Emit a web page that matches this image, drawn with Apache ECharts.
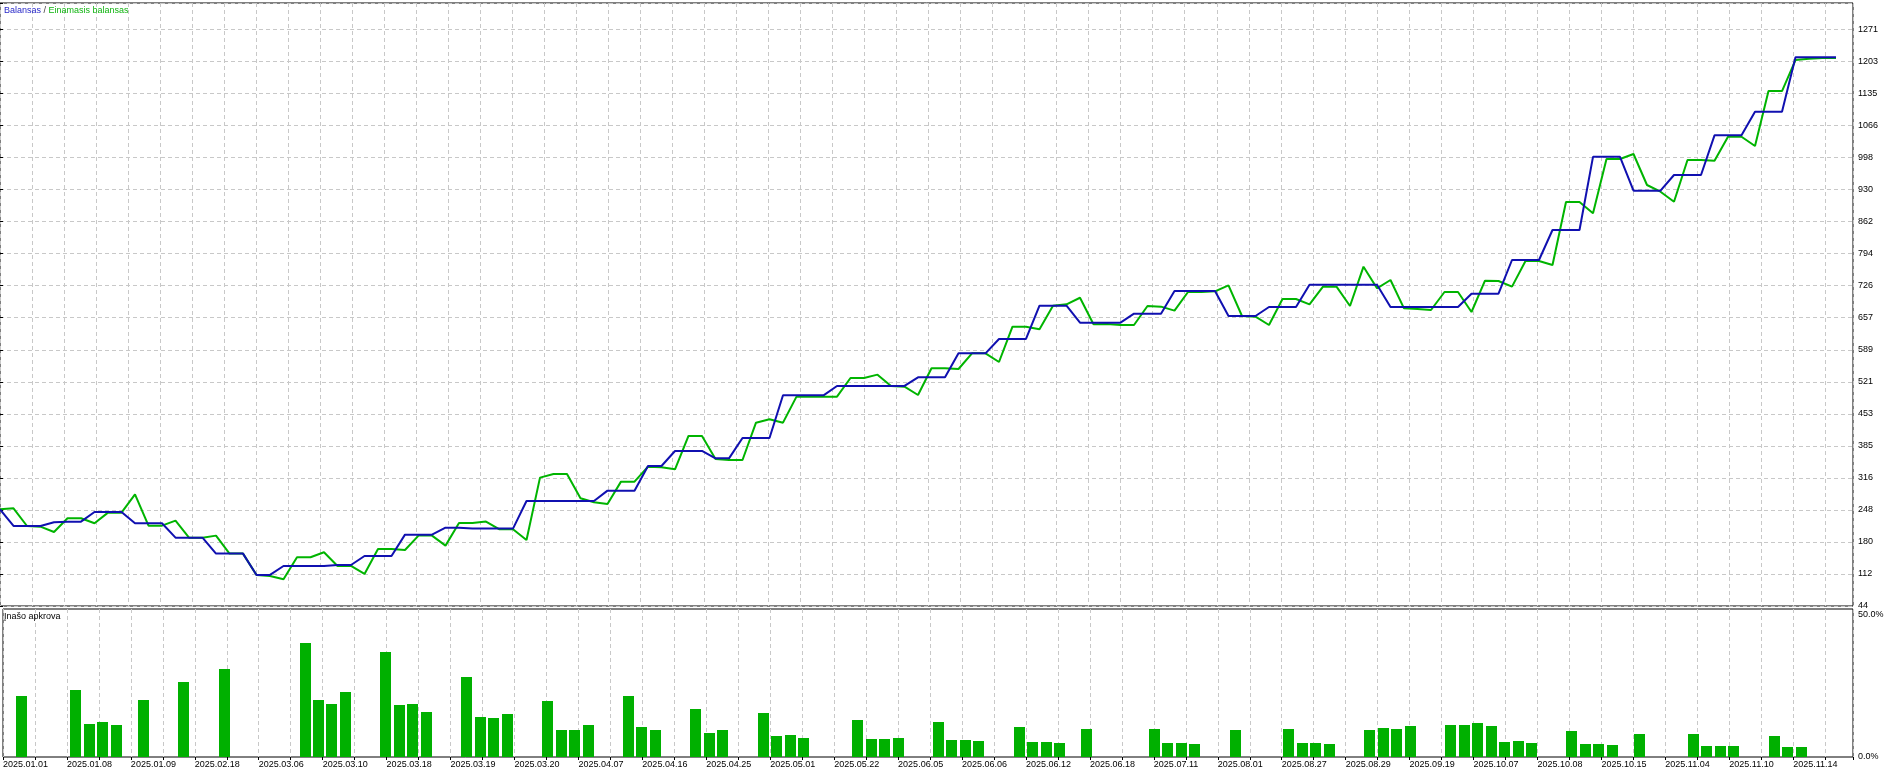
<!DOCTYPE html>
<html>
<head>
<meta charset="utf-8">
<script src="https://cdn.jsdelivr.net/npm/echarts@6/dist/echarts.min.js"></script>
<style>
html,body{margin:0;padding:0;background:#ffffff;}
#chart{width:1896px;height:774px;}
</style>
</head>
<body>
<div id="chart"></div>
<script>
// ---- data ----
const xLabels = ['2025.01.01','2025.01.08','2025.01.09','2025.02.18','2025.03.06','2025.03.10','2025.03.18','2025.03.19','2025.03.20','2025.04.07','2025.04.16','2025.04.25','2025.05.01','2025.05.22','2025.06.05','2025.06.06','2025.06.12','2025.06.18','2025.07.11','2025.08.01','2025.08.27','2025.08.29','2025.09.19','2025.10.07','2025.10.08','2025.10.15','2025.11.04','2025.11.10','2025.11.14'];
const yTickLabels = ['44','112','180','248','316','385','453','521','589','657','726','794','862','930','998','1066','1135','1203','1271'];

// balance per deal step (index 0..136)
const balance = [249.7,214.2,214.2,214.2,222.0,223.4,223.4,244.0,244.0,244.0,
  219.9,219.9,219.9,189.4,189.4,189.4,155.4,155.4,155.4,110.0,
  110.0,129.1,129.1,129.1,129.1,131.2,131.2,150.4,150.4,150.4,
  195.8,195.8,195.8,210.7,210.7,208.6,208.6,208.6,208.6,267.4,
  267.4,267.4,267.4,267.4,267.4,289.4,289.4,289.4,341.9,341.9,
  373.8,373.8,373.8,358.2,358.2,401.5,401.5,401.5,492.3,492.3,
  492.3,492.3,512.2,512.2,512.2,512.2,512.2,512.2,530.6,530.6,
  530.6,581.7,581.7,581.7,612.2,612.2,612.2,683.0,683.0,683.0,
  647.0,647.0,647.0,647.0,666.1,666.1,666.1,714.3,714.3,714.3,
  714.3,661.1,661.1,661.1,680.3,680.3,680.3,727.8,727.8,727.8,
  727.8,727.8,727.8,680.3,680.3,680.3,680.3,680.3,680.3,708.6,
  708.6,708.6,780.3,780.3,780.3,844.1,844.1,844.1,999.8,999.8,
  999.8,927.8,927.8,927.8,961.2,961.2,961.2,1045.6,1045.6,1045.6,
  1096.0,1096.0,1096.0,1211.6,1211.6,1211.6,1211.6];

// equity per step (index 0..136)
const equity = [249.7,251.8,214.2,212.8,201.5,230.6,230.6,219.9,242.6,242.6,
  281.6,214.9,214.9,225.6,189.4,189.4,193.7,155.4,155.4,110.0,
  107.8,100.7,147.6,147.6,158.2,129.1,129.1,112.1,165.3,165.3,
  163.2,193.7,193.7,172.4,220.6,220.6,223.5,207.1,207.1,184.4,
  317.1,324.9,324.9,273.1,264.6,261.1,308.6,308.6,340.5,339.1,
  334.8,405.8,405.8,356.8,354.7,354.7,434.1,441.2,434.1,489.5,
  489.5,489.5,489.5,529.2,529.2,536.3,512.2,510.7,493.0,549.8,
  549.8,548.3,581.7,581.7,563.2,638.4,638.4,632.8,683.0,686.0,
  700.0,643.4,644.1,642.0,642.0,682.4,681.0,672.5,712.2,712.2,
  713.6,726.4,661.1,659.7,642.0,697.3,697.3,686.0,723.6,723.6,
  682.4,766.1,720.0,737.7,677.4,676.0,673.9,712.2,712.2,669.6,
  736.3,735.6,723.6,778.2,778.2,769.6,903.7,903.7,879.6,995.2,
  995.2,1005.9,939.9,925.7,904.4,993.1,993.1,991.7,1042.7,1042.7,
  1022.9,1139.9,1139.9,1205.9,1208.7,1210.1,1210.1];

// deposit load bars: step index and percent
const loadStep = [1,5,6,7,8,10,13,16,22,23,24,25,28,29,30,31,34,35,36,37,40,41,42,43,46,47,48,
  51,52,53,56,57,58,59,63,64,65,66,69,70,71,72,75,76,77,78,80,85,86,87,88,91,
  95,96,97,98,101,102,103,104,107,108,109,110,111,112,113,116,117,118,119,121,125,126,127,128,131,132,133];
const loadPct = [20.6,22.6,11.1,11.8,10.7,19.2,25.3,29.8,38.6,19.2,17.9,21.9,35.5,17.5,17.9,15.2,27.0,13.5,13.1,14.5,18.9,9.0,9.0,10.7,20.6,10.1,9.0,
  16.2,8.0,9.0,14.8,7.0,7.4,6.3,12.4,6.0,6.0,6.3,11.8,5.7,5.7,5.3,10.1,5.0,5.0,4.6,9.4,9.4,4.6,4.6,4.3,9.0,
  9.4,4.6,4.6,4.3,9.0,9.7,9.4,10.4,10.7,10.7,11.4,10.4,5.0,5.3,4.6,8.7,4.3,4.3,4.0,7.7,7.7,3.6,3.6,3.6,7.0,3.3,3.3];

// ---- layout / style ----
const FONT = 'Liberation Sans';
const BLUE = '#1010b0';
const GREEN = '#00b400';
const BAR_GREEN = '#00b000';
const GRID_COLOR = '#c8c8c8';
const SLOT_PX = 13.5;
const GRIDLINE_PX = 32.02;
const PLOT_LEFT = 0, PLOT_RIGHT = 43;
const PLOT_W = 1896 - PLOT_LEFT - PLOT_RIGHT;
const X_MAX = PLOT_W / SLOT_PX;
const X_STEP = GRIDLINE_PX / SLOT_PX;
const P1_TOP = 3, P1_H = 603;
const P2_TOP = 609, P2_H = 148;
const Y_MIN = 43.9, Y_STEP = 68.17, Y_STEP_PX = 32.03;
const Y_MAX = Y_MIN + (P1_H / Y_STEP_PX) * Y_STEP;

function xLabel(v) {
  const k = Math.round(v / X_STEP);
  if (Math.abs(v - k * X_STEP) > 1e-6 || k % 2 !== 0) return '';
  return xLabels[k / 2] || '';
}
function yLabel(v) {
  const k = Math.round((v - Y_MIN) / Y_STEP);
  if (Math.abs(v - (Y_MIN + k * Y_STEP)) > 1e-6) return '';
  return yTickLabels[k] || '';
}

const dashed = { color: GRID_COLOR, type: [4, 3], width: 1 };
const chart = echarts.init(document.getElementById('chart'), null, { renderer: 'canvas' });
chart.setOption({
  animation: false,
  backgroundColor: '#ffffff',
  textStyle: { fontFamily: FONT },
  title: [
    { left: 4, top: 6, padding: 0,
      text: '{b|Balansas} {s|/} {e|Einamasis balansas}',
      textStyle: { fontSize: 9, fontWeight: 'normal', fontFamily: FONT, color: '#333',
        rich: {
          b: { color: '#2828c8', fontSize: 9, fontFamily: FONT },
          s: { color: '#404040', fontSize: 9, fontFamily: FONT },
          e: { color: '#10b410', fontSize: 9, fontFamily: FONT }
        } } },
    { left: 4, top: 612, padding: 0, text: 'Įnašo apkrova',
      textStyle: { fontSize: 9, fontWeight: 'normal', fontFamily: FONT, color: '#000' } }
  ],
  grid: [
    { left: PLOT_LEFT, right: PLOT_RIGHT, top: P1_TOP, height: P1_H, show: true, borderColor: '#000', borderWidth: 1, backgroundColor: 'transparent' },
    { left: PLOT_LEFT, right: PLOT_RIGHT, top: P2_TOP, height: P2_H, show: true, borderColor: '#000', borderWidth: 1, backgroundColor: 'transparent' }
  ],
  xAxis: [
    { gridIndex: 0, type: 'value', min: 0, max: X_MAX, interval: X_STEP,
      axisLine: { show: false }, axisTick: { show: false }, axisLabel: { show: false },
      splitLine: { show: true, lineStyle: dashed } },
    { gridIndex: 1, type: 'value', min: 0, max: X_MAX, interval: X_STEP,
      axisLine: { show: false },
      axisTick: { show: true, length: 3, lineStyle: { color: '#000' } },
      axisLabel: { show: true, formatter: xLabel, align: 'left', margin: 3, color: '#000', fontSize: 9, fontFamily: FONT },
      splitLine: { show: true, lineStyle: dashed } }
  ],
  yAxis: [
    { gridIndex: 0, type: 'value', position: 'right', min: Y_MIN, max: Y_MAX, interval: Y_STEP,
      axisLine: { show: false },
      axisTick: { show: true, length: 3, lineStyle: { color: '#000' } },
      axisLabel: { formatter: yLabel, margin: 5, color: '#000', fontSize: 9, fontFamily: FONT },
      splitLine: { show: true, lineStyle: dashed } },
    { gridIndex: 1, type: 'value', position: 'right', min: 0, max: 50, interval: 50,
      axisLine: { show: false }, axisTick: { show: false },
      axisLabel: { margin: 5, color: '#000', fontSize: 9, fontFamily: FONT,
        formatter: v => v === 50 ? '{t|50.0%}' : '{b|0.0%}',
        rich: { t: { padding: [11, 0, 0, 0], color: '#000', fontSize: 9, fontFamily: FONT },
                b: { color: '#000', fontSize: 9, fontFamily: FONT } } },
      splitLine: { show: false } }
  ],
  series: [
    { type: 'line', name: 'Einamasis balansas', xAxisIndex: 0, yAxisIndex: 0,
      data: equity.map((v, i) => [i, v]), showSymbol: false, z: 3,
      lineStyle: { color: GREEN, width: 2 }, itemStyle: { color: GREEN } },
    { type: 'line', name: 'Balansas', xAxisIndex: 0, yAxisIndex: 0,
      data: balance.map((v, i) => [i, v]), showSymbol: false, z: 4,
      lineStyle: { color: BLUE, width: 2 }, itemStyle: { color: BLUE } },
    { type: 'custom', name: 'Įnašo apkrova', xAxisIndex: 1, yAxisIndex: 1,
      data: loadStep.map((s, i) => [s, loadPct[i]]),
      renderItem: (params, api) => {
        const base = api.coord([api.value(0), 0]);
        const top = api.coord([api.value(0), api.value(1)]);
        const w = api.size([1, 0])[0];
        const x = Math.round(base[0]);
        const y = Math.round(top[1]);
        return { type: 'rect',
          shape: { x: x, y: y, width: Math.round(w - 2), height: Math.round(base[1]) - y },
          style: { fill: BAR_GREEN } };
      } }
  ]
});
</script>
</body>
</html>
